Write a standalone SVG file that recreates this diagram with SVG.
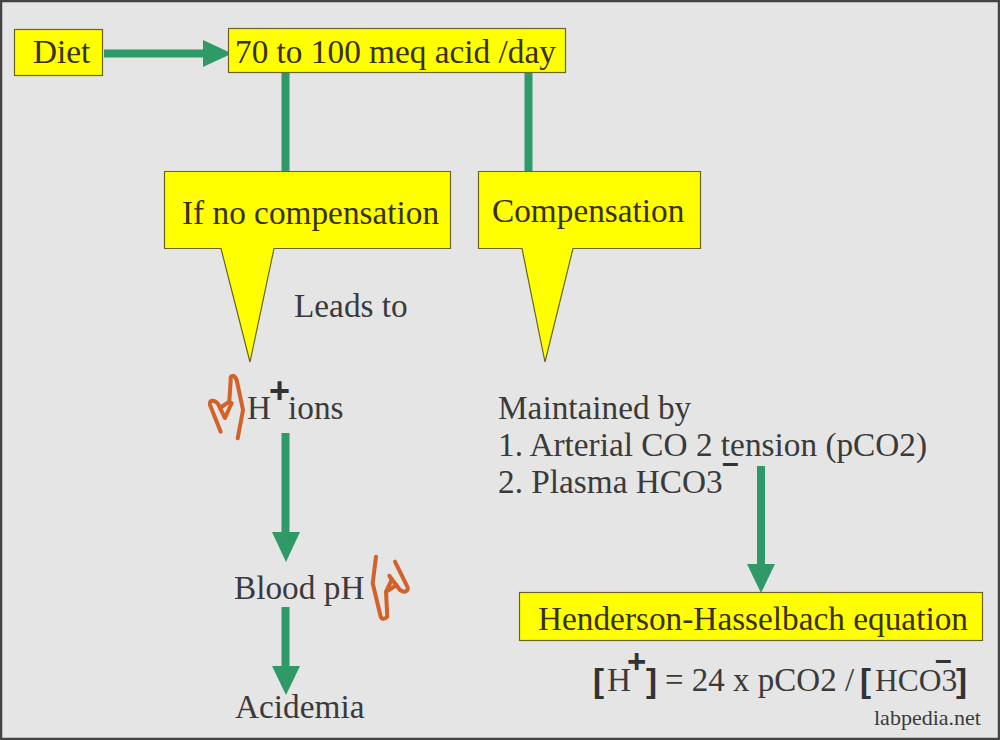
<svg xmlns="http://www.w3.org/2000/svg" width="1000" height="740" viewBox="0 0 1000 740">
<style>
text{font-family:"Liberation Serif","Times New Roman",serif;font-size:33.3px;fill:#3a3a3a}
.b{fill:#ffff00;stroke:#6b6420;stroke-width:1.2}
text.dk{fill:#3a2f10}
text.sym{font-family:"Liberation Sans",Arial,sans-serif;font-weight:bold;fill:#333;font-size:30px}
text.cr{font-size:22px}
.c{stroke:#2f9a68;stroke-width:8;fill:none}
.a{fill:#2f9a68}
.h{fill:none;stroke:#d2622a;stroke-width:4;stroke-linecap:round;stroke-linejoin:round}
</style>
<rect x="1" y="1" width="998" height="738" fill="#e5e5e5" stroke="#444" stroke-width="2.5"/>
<g id="connectors">
<path class="c" d="M104 53.500H204"/><polygon class="a" points="203,40 232,53.500 203,67"/>
<path class="c" d="M285.500 73V172"/>
<path class="c" d="M528.500 73V172"/>
<path class="c" d="M285.500 433V534"/><polygon class="a" points="272,532 300,532 286,562"/>
<path class="c" d="M285.500 607V668"/><polygon class="a" points="272,666 300,666 286,695"/>
<path class="c" d="M761 466V566"/><polygon class="a" points="747,564 775,564 761,593"/>
</g>
<g id="diet"><rect class="b" x="14.500" y="29.500" width="88" height="46"/><text class="dk" x="33" y="63">Diet</text></g>
<g id="acid"><rect class="b" x="228.500" y="28.500" width="337" height="44"/><text class="dk" x="235" y="63">70 to 100 meq acid /day</text></g>
<g id="no-compensation"><polygon class="b" points="164.500,171.500 450.500,171.500 450.500,248.500 274,248.500 250,362 221,248.500 164.500,248.500"/><text class="dk" x="182" y="224">If no compensation</text></g>
<g id="compensation"><polygon class="b" points="478.500,171.500 700.500,171.500 700.500,248.500 573,248.500 545,362 522,248.500 478.500,248.500"/><text class="dk" x="492" y="222">Compensation</text></g>
<g id="leads-to"><text x="294" y="317">Leads to</text></g>
<g id="h-ions">
<path class="h" d="M220.700 431.700L210 405Q209 400 214 401Q218 402 220 408L225 418L231.700 403M237.700 438.300L243 410L236.700 380Q234 375 232.700 376Q230 376 230.700 380L229.300 401.700L220 408"/>
<text x="247" y="419">H</text><text class="sym" style="font-size:36px" x="269" y="403">+</text><text x="288" y="419">ions</text>
</g>
<g id="blood-ph">
<text x="234" y="599">Blood pH</text>
<path class="h" d="M376 556.700L372.700 583.300L380.700 616.700Q383 621 387.300 616.700L386 591.700L391.700 580L389.300 575.700L400 590Q403 592 405 591.700Q409 590 407.300 586.700L395 561.700M386 591.700L396.700 585"/>
</g>
<g id="acidemia"><text x="235" y="718">Acidemia</text></g>
<g id="maintained">
<text x="498" y="419">Maintained by</text>
<text x="498" y="456">1. Arterial CO 2 tension (pCO2)</text>
<text x="498" y="493">2. Plasma HCO3</text>
<text class="sym" x="722" y="473">–</text>
</g>
<g id="henderson"><rect class="b" x="519.500" y="592.500" width="463" height="48"/><text class="dk" x="538" y="630">Henderson-Hasselbach equation</text></g>
<g id="equation">
<text class="sym" style="font-size:33px" x="593" y="692">[</text>
<text x="607" y="691">H</text>
<text class="sym" style="font-size:33px" x="627" y="673">+</text>
<text class="sym" style="font-size:33px" x="646" y="692">]</text>
<text style="font-size:33px" x="665" y="691">= 24 x pCO2 /</text>
<text class="sym" style="font-size:33px" x="860" y="692">[</text>
<text style="font-size:31.500px" x="875" y="691">HCO3</text>
<text class="sym" x="935" y="670">–</text>
<text class="sym" style="font-size:33px" x="956" y="692">]</text>
</g>
<g id="credit"><text class="cr" x="874" y="725">labpedia.net</text></g>
</svg>
